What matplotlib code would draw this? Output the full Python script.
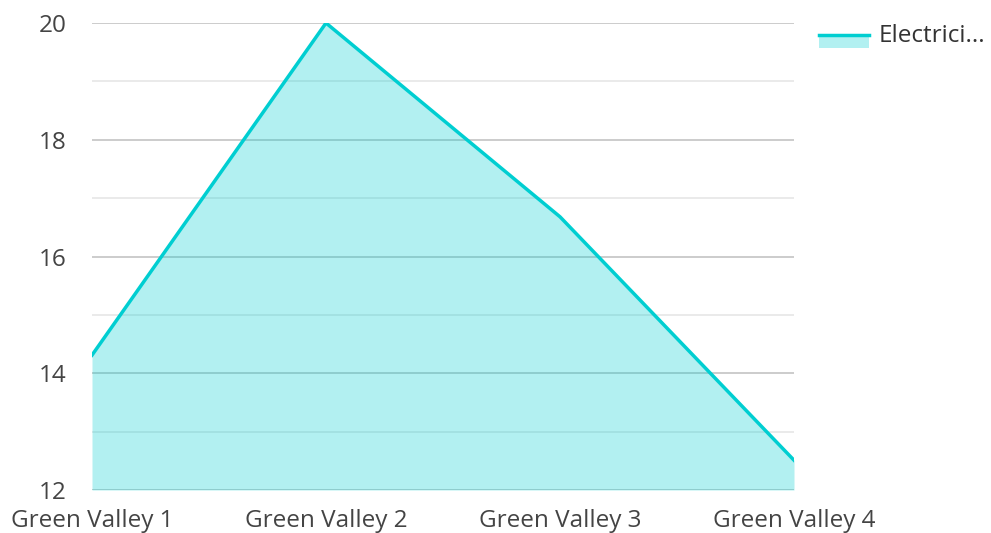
import matplotlib.pyplot as plt
import matplotlib.ticker as ticker
from matplotlib.patches import Rectangle
from matplotlib.lines import Line2D

plt.rcParams['font.family'] = ['Open Sans', 'DejaVu Sans']

# Daten
kategorien = ["Green Valley 1", "Green Valley 2", "Green Valley 3", "Green Valley 4"]
werte = [14.31, 20.0, 16.68, 12.51]
serie = "Electrici..."

linie_farbe = '#00CED1'
W, H = 991, 533

fig = plt.figure(figsize=(W / 100, H / 100), dpi=100)
ax = fig.add_axes([92 / W, 1 - 490 / H, (794 - 92) / W, (490 - 23) / H])

x = range(len(kategorien))
ax.fill_between(x, werte, 12, color=linie_farbe, alpha=0.3, linewidth=0, zorder=2)
ax.plot(x, werte, color=linie_farbe, linewidth=2.5, zorder=3)

ax.set_xlim(0, len(kategorien) - 1)
ax.set_ylim(12, 20)

# Gitter
ax.yaxis.set_major_locator(ticker.MultipleLocator(2))
ax.yaxis.set_minor_locator(ticker.MultipleLocator(1))
ax.grid(True, which='major', axis='y', color='#c4c4c4', linewidth=1.2, zorder=1)
ax.grid(True, which='minor', axis='y', color='#e6e6e6', linewidth=1.2, zorder=1)
ax.set_axisbelow(True)

ax.set_xticks(list(x))
ax.set_xticklabels(kategorien)

for s in ax.spines.values():
    s.set_visible(False)
ax.tick_params(axis='both', which='both', length=0, labelsize=17.5, labelcolor='#444444')
ax.tick_params(axis='y', pad=18)
ax.tick_params(axis='x', pad=13.5)

# Legende (von Hand, Flaeche mit Linie oben)
fig.add_artist(Rectangle((819 / W, 1 - 48 / H), 50 / W, 13 / H, transform=fig.transFigure,
                         facecolor=linie_farbe, alpha=0.3, linewidth=0))
fig.add_artist(Line2D([819 / W, 869 / W], [1 - 35 / H, 1 - 35 / H], transform=fig.transFigure,
                      color=linie_farbe, linewidth=2.5))
fig.text(879 / W, 1 - 36 / H, serie, fontsize=17.5, color='#333333', va='center', ha='left')

plt.savefig("out.png", dpi=100)
